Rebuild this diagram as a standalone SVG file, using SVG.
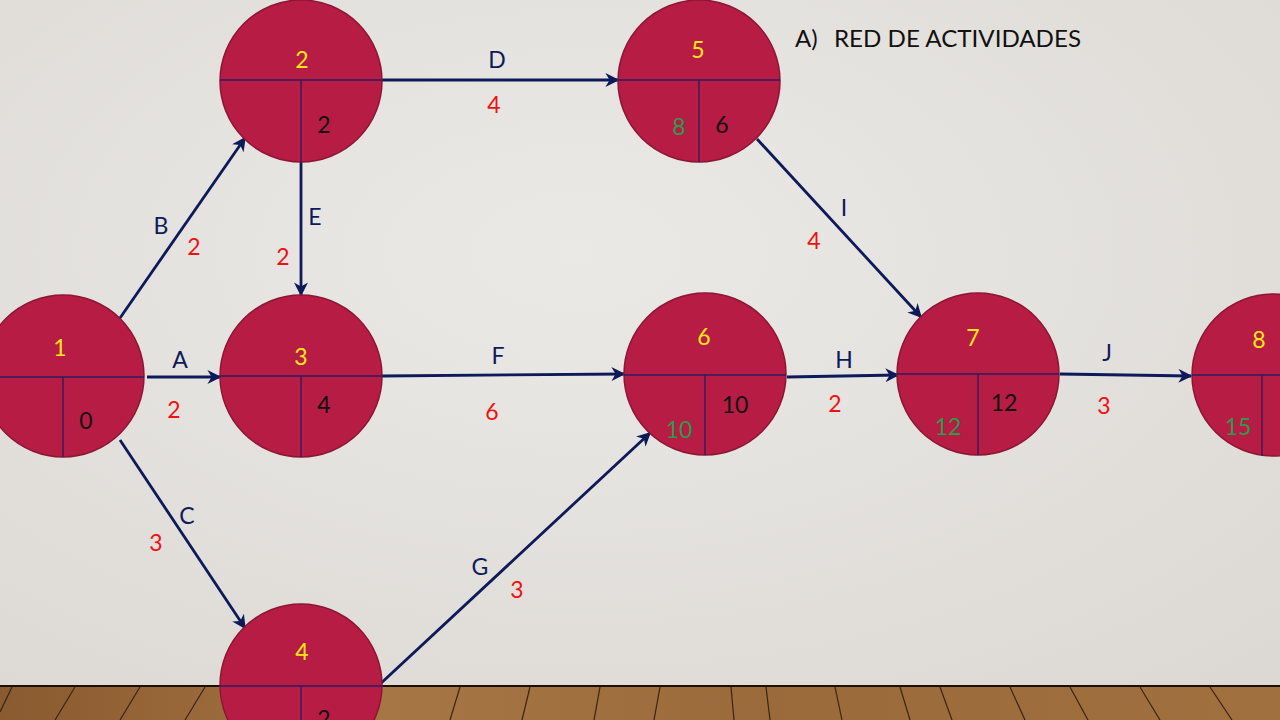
<svg xmlns="http://www.w3.org/2000/svg" width="1280" height="720" viewBox="0 0 1280 720">
<defs>
<radialGradient id="wall" cx="0.45" cy="0.35" r="0.8">
<stop offset="0" stop-color="#ebe9e6"/>
<stop offset="1" stop-color="#dcd9d4"/>
</radialGradient>
<linearGradient id="wood" x1="0" y1="0" x2="1" y2="0">
<stop offset="0" stop-color="#8a5a30"/>
<stop offset="0.3" stop-color="#a67644"/>
<stop offset="0.6" stop-color="#9a6a3a"/>
<stop offset="1" stop-color="#a0703f"/>
</linearGradient>
<marker id="arr" viewBox="0 0 10 10" refX="9" refY="5" markerWidth="5" markerHeight="5" orient="auto" markerUnits="strokeWidth">
<path d="M0,0 L10,5 L0,10 L3,5 z" fill="#0d1a5a"/>
</marker>
</defs>
<style>
.n{fill:#b71c44;stroke:#8c1634;stroke-width:1.5}
.d{stroke:#2b1b5e;stroke-width:1.3;fill:none}
.e{stroke:#0d1a5a;stroke-width:2.8;fill:none;marker-end:url(#arr)}
text{font-family:"Lato","Open Sans","DejaVu Sans",sans-serif;font-size:23px}
.y{fill:#ffe81a;text-anchor:middle}
.k{fill:#111;text-anchor:middle}
.g{fill:#2e9a4e;text-anchor:middle}
.l{fill:#0d1a5a;text-anchor:middle}
.r{fill:#ee1111;text-anchor:middle}
.plank{stroke:#3a2412;stroke-width:1.2}
</style>
<rect x="0" y="0" width="1280" height="720" fill="url(#wall)"/>
<g id="floor">
<rect x="0" y="686" width="1280" height="34" fill="url(#wood)"/>
<line x1="0" y1="686" x2="1280" y2="686" stroke="#1a1008" stroke-width="2"/>
<g class="plank">
<line x1="12" y1="687" x2="0" y2="712"/><line x1="75" y1="687" x2="55" y2="720"/><line x1="140" y1="687" x2="120" y2="720"/><line x1="205" y1="687" x2="185" y2="720"/><line x1="460" y1="687" x2="450" y2="720"/><line x1="530" y1="687" x2="522" y2="720"/><line x1="600" y1="687" x2="594" y2="720"/><line x1="660" y1="687" x2="654" y2="720"/><line x1="731" y1="687" x2="734" y2="720"/><line x1="766" y1="687" x2="770" y2="720"/><line x1="835" y1="687" x2="842" y2="720"/><line x1="900" y1="687" x2="910" y2="720"/><line x1="940" y1="687" x2="952" y2="720"/><line x1="1010" y1="687" x2="1025" y2="720"/><line x1="1070" y1="687" x2="1088" y2="720"/><line x1="1140" y1="687" x2="1160" y2="720"/><line x1="1210" y1="687" x2="1232" y2="720"/>
</g>
</g>
<text y="47" style="font-size:24px;fill:#111"><tspan x="795">A)</tspan><tspan x="834" textLength="247" lengthAdjust="spacingAndGlyphs">RED DE ACTIVIDADES</tspan></text>
<g id="connectors">
<line class="e" x1="147" y1="377" x2="220" y2="377"/>
<line class="e" x1="120" y1="318" x2="245" y2="138"/>
<line class="e" x1="120" y1="440" x2="245" y2="628"/>
<line class="e" x1="382" y1="80" x2="618" y2="80"/>
<line class="e" x1="301" y1="162" x2="301" y2="295"/>
<line class="e" x1="382" y1="376" x2="624" y2="374"/>
<line class="e" x1="378" y1="686" x2="650" y2="433"/>
<line class="e" x1="787" y1="377" x2="898" y2="375"/>
<line class="e" x1="757" y1="139" x2="921" y2="317"/>
<line class="e" x1="1060" y1="374" x2="1191" y2="376"/>
<text class="l" x="180" y="368">A</text><text class="r" x="174" y="418">2</text>
<text class="l" x="161" y="234">B</text><text class="r" x="194" y="255">2</text>
<text class="l" x="187" y="524">C</text><text class="r" x="156" y="551">3</text>
<text class="l" x="497" y="68">D</text><text class="r" x="494" y="113">4</text>
<text class="l" x="315" y="225">E</text><text class="r" x="283" y="265">2</text>
<text class="l" x="498" y="364">F</text><text class="r" x="492" y="420">6</text>
<text class="l" x="480" y="575">G</text><text class="r" x="517" y="598">3</text>
<text class="l" x="844" y="368">H</text><text class="r" x="835" y="412">2</text>
<text class="l" x="844" y="216">I</text><text class="r" x="814" y="249">4</text>
<text class="l" x="1107" y="361">J</text><text class="r" x="1104" y="414">3</text>
</g>
<g id="node1">
<circle class="n" cx="63" cy="376" r="81"/>
<path class="d" d="M-18,377 H144 M63,377 V457"/>
<text class="y" x="60" y="356">1</text><text class="k" x="86" y="429">0</text>
</g>
<g id="node2">
<circle class="n" cx="301" cy="81" r="81"/>
<path class="d" d="M220,80 H382 M301,80 V162"/>
<text class="y" x="302" y="68">2</text><text class="k" x="324" y="133">2</text>
</g>
<g id="node3">
<circle class="n" cx="301" cy="376" r="81"/>
<path class="d" d="M220,376 H382 M301,376 V457"/>
<text class="y" x="301" y="365">3</text><text class="k" x="324" y="413">4</text>
</g>
<g id="node4">
<circle class="n" cx="301" cy="685" r="81"/>
<path class="d" d="M220,686 H382 M301,686 V766"/>
<text class="y" x="302" y="660">4</text><text class="k" x="324" y="727">2</text>
</g>
<g id="node5">
<circle class="n" cx="699" cy="81" r="81"/>
<path class="d" d="M618,80 H780 M699,80 V162"/>
<text class="y" x="698" y="58">5</text><text class="g" x="679" y="135">8</text><text class="k" x="722" y="133">6</text>
</g>
<g id="node6">
<circle class="n" cx="705" cy="374" r="81"/>
<path class="d" d="M624,375 H786 M705,375 V455"/>
<text class="y" x="704" y="345">6</text><text class="k" x="735" y="413">10</text><text class="g" x="679" y="438">10</text>
</g>
<g id="node7">
<circle class="n" cx="978" cy="374" r="81"/>
<path class="d" d="M897,374 H1059 M978,374 V455"/>
<text class="y" x="973" y="346">7</text><text class="k" x="1004" y="411">12</text><text class="g" x="948" y="435">12</text>
</g>
<g id="node8">
<circle class="n" cx="1273" cy="375" r="81"/>
<path class="d" d="M1192,375 H1354 M1262,375 V456"/>
<text class="y" x="1259" y="348">8</text><text class="g" x="1238" y="435">15</text>
</g>
</svg>
